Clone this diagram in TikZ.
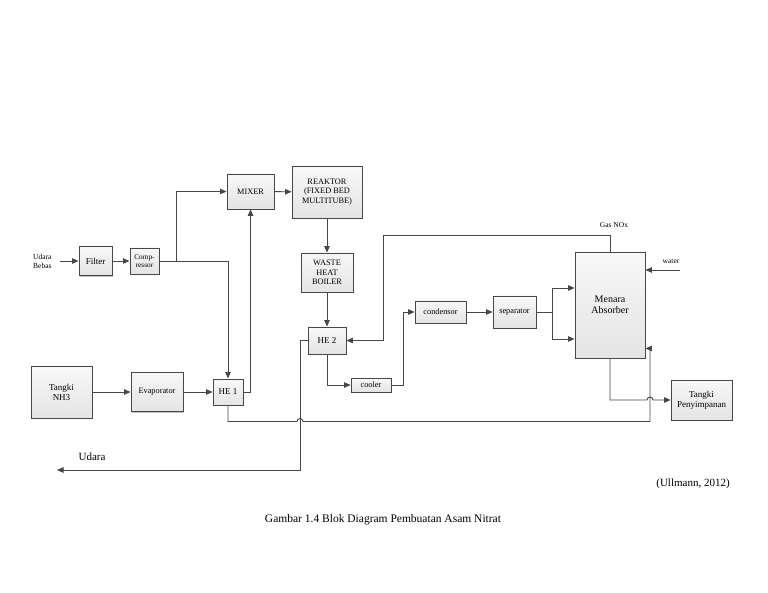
\documentclass[tikz,border=0pt]{standalone}
\usepackage{fontspec}
\setmainfont{Liberation Serif}
\usetikzlibrary{positioning,arrows.meta,shadows}
\definecolor{linegray}{HTML}{474747}
\definecolor{boxtop}{HTML}{F8F8F8}
\definecolor{boxbot}{HTML}{E4E4E4}

\begin{document}
\begin{tikzpicture}[x=1pt,y=-1pt,
  font=\fontsize{8.3}{9.5}\selectfont,
  blk/.style={draw=linegray,line width=0.9pt,top color=boxtop,bottom color=boxbot,align=center,inner sep=1pt,
    drop shadow={shadow xshift=1.2pt,shadow yshift=-1.2pt,fill=black,opacity=0.25}},
  big/.style={font=\fontsize{9}{10}\selectfont},
  wire/.style={line width=0.9pt,draw=linegray},
  lab/.style={font=\fontsize{7.5}{9}\selectfont,inner sep=0pt},
  >={Triangle[length=6.5pt,width=5.5pt]}]
\useasboundingbox (0,0) rectangle (768,593);
% ---- feed air line
\node[blk,big,minimum width=33pt,minimum height=29pt] (filter) at (95.5,261) {Filter};
\node[blk,minimum width=29pt,minimum height=26pt,font=\fontsize{7.3}{8.3}\selectfont] (comp) at (144.5,261) {Comp-\\ressor};
\node[blk,minimum width=47pt,minimum height=35pt] (mixer) at (250.5,191.5) {MIXER};
\node[blk,minimum width=70pt,minimum height=52pt] (reaktor) at (327,192) {REAKTOR\\(FIXED BED\\MULTITUBE)};
\node[blk,minimum width=52pt,minimum height=39pt] (whb) at (327,272.5) {WASTE\\HEAT\\BOILER};
\node[blk,big,minimum width=38pt,minimum height=27pt] (he2) at (327,340.5) {HE 2};
% ---- ammonia line
\node[blk,big,minimum width=61pt,minimum height=52pt] (nh3) at (61.5,392) {Tangki\\NH3};
\node[blk,minimum width=52pt,minimum height=39pt] (evap) at (157,392) {Evaporator};
\node[blk,big,minimum width=30pt,minimum height=26pt] (he1) at (228,392) {HE 1};
% ---- gas train and absorber
\node[blk,minimum width=40pt,minimum height=14pt] (cooler) at (371,385) {cooler};
\node[blk,minimum width=51pt,minimum height=22pt] (cond) at (440.5,312) {condensor};
\node[blk,minimum width=43pt,minimum height=32pt] (sep) at (514.5,312) {separator};
\node[blk,minimum width=70pt,minimum height=106pt,font=\fontsize{10}{11}\selectfont] (abs) at (610,305) {Menara\\Absorber};
\node[blk,big,minimum width=61pt,minimum height=40pt] (tank) at (701.5,400) {Tangki\\Penyimpanan};
% ---- labels
\node[lab,align=left,anchor=west] (udb) at (33,261) {Udara\\Bebas};
\node[lab] (noxlab) at (614,225) {Gas NOx};
\node[lab] (watlab) at (671,261) {water};
\node[font=\fontsize{11}{13}\selectfont] (udlab) at (92,457) {Udara};
\node[font=\fontsize{11}{13}\selectfont] (ref) at (693,484) {(Ullmann, 2012)};
\node[font=\fontsize{11.5}{13}\selectfont] (cap) at (383,520) {Gambar 1.4 Blok Diagram Pembuatan Asam Nitrat};
% ---- free ends and bends
\coordinate (udbin) at (60,261);
\coordinate (split) at (176,261);
\coordinate (sepfork) at (552,312);
\coordinate (noxturn) at (383,235);
\coordinate (water) at (680,270);
\coordinate (he1low) at (228,421.5);
\coordinate (udturn) at (300,470);
\coordinate (udout) at (57,470);
% ---- connectors
\draw[wire,->] (udbin) -- (filter.west);
\draw[wire,->] (filter) -- (comp);
\draw[wire,->] (comp.east) -| (he1.north);
\draw[wire,->] (split) |- (mixer.west);
\draw[wire,->] (he1.east) -| (mixer.south);
\draw[wire,->] (mixer) -- (reaktor);
\draw[wire,->] (reaktor) -- (whb);
\draw[wire,->] (whb) -- (he2);
\draw[wire,->] (nh3) -- (evap);
\draw[wire,->] (evap) -- (he1);
\draw[wire,->] (he2.south) |- (cooler.west);
\draw[wire,->] (cooler.east) -- ++(12,0) |- (cond.west);
\draw[wire,->] (cond) -- (sep);
\draw[wire] (sep.east) -- (sepfork);
\draw[wire,->] (sepfork) |- ([yshift=17pt]abs.west);
\draw[wire,->] (sepfork) |- ([yshift=-34pt]abs.west);
\draw[wire,->] (abs.north) |- (noxturn) |- (he2.east);
\draw[wire,->] (water) -- (water -| abs.east);
\draw[wire,->] (abs.south) |- (647,400) arc[start angle=180,end angle=360,radius=3] -- (tank.west);
\draw[wire,->] (he1.south) -- (he1low) -- (297,421.5) arc[start angle=180,end angle=360,radius=3]
  -- (650,421.5) |- ([yshift=10pt]abs.south east);
\draw[wire,->] (he2.west) -| (udturn) -- (udout);
\end{tikzpicture}
\end{document}
